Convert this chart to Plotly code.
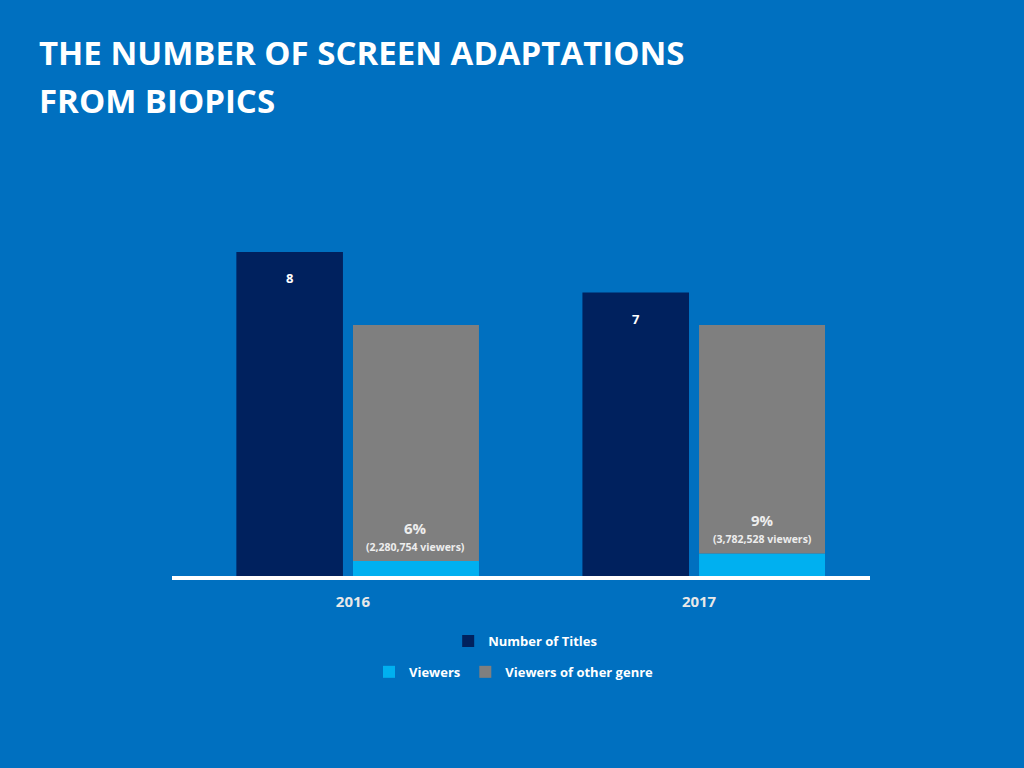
import plotly.graph_objects as go

years = ["2016", "2017"]
titles = [8, 7]
viewers_pct = [6, 9]
other_pct = [94, 91]
viewers_count = ["2,280,754", "3,782,528"]

BG = "#0070C0"
NAVY = "#00215E"
GRAY = "#7F7F7F"
LIGHT = "#00B0F0"
FONT = "Open Sans"

x = [0, 1]
t_off, t_w = -0.337, 0.308
g_off, g_w = 0.0, 0.364

fig = go.Figure()
fig.add_trace(go.Bar(x=x, y=titles, name="<b>Number of Titles</b>", marker_color=NAVY,
                     marker_line_width=0, offset=t_off, width=t_w, yaxis="y",
                     legend="legend"))
fig.add_trace(go.Bar(x=x, y=viewers_pct, name="<b>Viewers</b>", marker_color=LIGHT,
                     marker_line_width=0, offset=g_off, width=g_w, yaxis="y2",
                     legend="legend2"))
fig.add_trace(go.Bar(x=x, y=other_pct, base=viewers_pct, name="<b>Viewers of other genre</b>",
                     marker_color=GRAY, marker_line_width=0, offset=g_off, width=g_w,
                     yaxis="y2", legend="legend2"))

annotations = []
for i in range(len(years)):
    annotations.append(dict(x=x[i] + t_off + t_w / 2, y=titles[i], xref="x", yref="y",
                            text=f"<b>{titles[i]}</b>", showarrow=False, yanchor="middle",
                            yshift=-26, font=dict(family=FONT, size=13, color="white")))
    annotations.append(dict(x=x[i] + g_off + g_w / 2, y=viewers_pct[i], xref="x", yref="y2",
                            text=f"<b>{viewers_pct[i]}%</b>", showarrow=False, yanchor="middle",
                            yshift=33, font=dict(family=FONT, size=15, color="#EDEDED")))
    annotations.append(dict(x=x[i] + g_off + g_w / 2, y=viewers_pct[i], xref="x", yref="y2",
                            text=f"<b>({viewers_count[i]} viewers)</b>", showarrow=False,
                            yanchor="middle", yshift=14,
                            font=dict(family=FONT, size=10.5, color="#EDEDED")))

fig.update_layout(
    width=1024, height=768,
    paper_bgcolor=BG, plot_bgcolor=BG,
    margin=dict(l=172, r=154, t=200, b=192),
    barmode="overlay",
    showlegend=True,
    annotations=annotations,
    xaxis=dict(range=[-0.523, 1.494], tickmode="array", tickvals=x,
               ticktext=[f"<b>{y}</b>" for y in years],
               showgrid=False, zeroline=False, showline=True, linecolor="white", linewidth=4,
               ticks="outside", ticklen=9, tickcolor="rgba(0,0,0,0)",
               tickfont=dict(family=FONT, size=15, color="#E8E8E8")),
    yaxis=dict(range=[0, 9.284], visible=False, showgrid=False),
    yaxis2=dict(range=[0, 149.8], visible=False, showgrid=False, overlaying="y"),
    legend=dict(orientation="h", x=0.506, xanchor="center", y=-0.173, yanchor="middle",
                font=dict(family=FONT, size=13, color="white"), bgcolor="rgba(0,0,0,0)",
                itemwidth=30),
    legend2=dict(orientation="h", x=0.49, xanchor="center", y=-0.255, yanchor="middle",
                 font=dict(family=FONT, size=13, color="white"), bgcolor="rgba(0,0,0,0)",
                 itemwidth=30),
    font=dict(family=FONT, color="white"),
)

title_lines = ["THE NUMBER OF SCREEN ADAPTATIONS", "FROM BIOPICS"]
for k, line in enumerate(title_lines):
    fig.add_annotation(x=(37 - 172) / 698, y=(576 - (52 + 48 * k)) / 376, xref="paper", yref="paper",
                       text=f"<b>{line}</b>", showarrow=False, xanchor="left", yanchor="middle",
                       font=dict(family=FONT, size=33, color="white"))

fig.write_html("out.html")
